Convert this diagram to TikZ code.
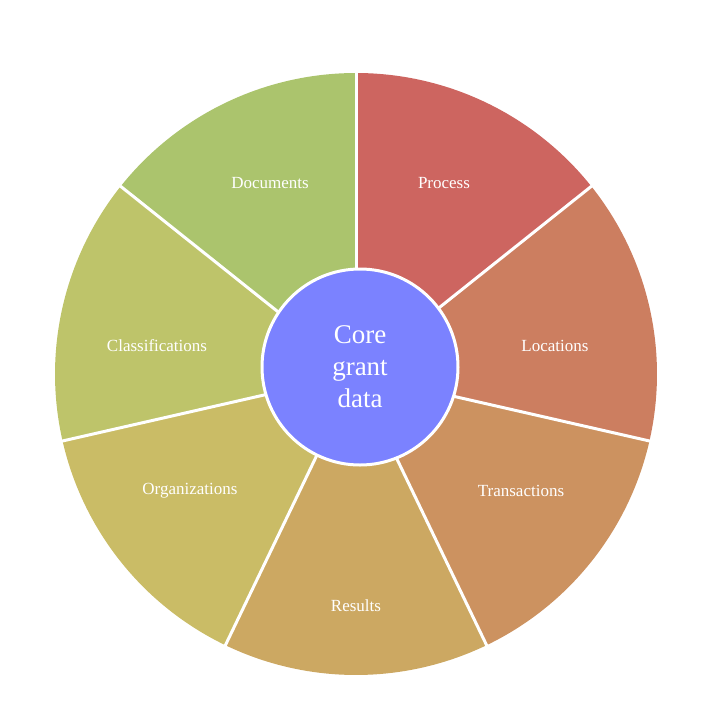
\documentclass[tikz,border=0pt]{standalone}
\usepackage{fontspec}
\setmainfont{Liberation Serif}
\definecolor{cProcess}{HTML}{CD6560}
\definecolor{cLocations}{HTML}{CC7E60}
\definecolor{cTransactions}{HTML}{CC9260}
\definecolor{cResults}{HTML}{CCA862}
\definecolor{cOrganizations}{HTML}{CABC66}
\definecolor{cClassifications}{HTML}{BEC46A}
\definecolor{cDocuments}{HTML}{ABC46D}
\definecolor{cCore}{HTML}{7B82FF}
\begin{document}
\begin{tikzpicture}[
    x=1pt, y=-1pt,
    wedge/.style={draw=white, line width=3pt, line join=round},
    lbl/.style={text=white, font=\fontsize{17}{20}\selectfont},
    core/.style={circle, draw=white, line width=3pt, fill=cCore,
        minimum size=196pt, text=white, align=center,
        font=\fontsize{27}{32}\selectfont}
]
\useasboundingbox (0,0) rectangle (720,718);

% --- Wedges ---
\foreach \name [count=\i from 0] in {Process,Locations,Transactions,Results,Organizations,Classifications,Documents} {
    \pgfmathsetmacro{\a}{90-360/7*\i}
    \pgfmathsetmacro{\b}{90-360/7*(\i+1)}
    \fill[c\name] (356,374) -- ++(\a:301 and -301) arc[start angle=\a, end angle=\b, x radius=301, y radius=-301] -- cycle;
}
\foreach \i in {0,...,6} {
    \pgfmathsetmacro{\a}{90-360/7*\i}
    \draw[wedge] (356,374) -- ++(\a:303 and -303);
}

% --- Labels ---
\node[lbl] (process) at (444,183) {Process};
\node[lbl] (locations) at (555,346) {Locations};
\node[lbl] (transactions) at (521,491) {Transactions};
\node[lbl] (results) at (356,606) {Results};
\node[lbl] (organizations) at (190,491) {Organizations};
\node[lbl] (classifications) at (157,346) {Classifications};
\node[lbl] (documents) at (270,183) {Documents};

% --- Center ---
\node[core] (coredata) at (360,367) {Core\\grant\\data};

\end{tikzpicture}
\end{document}
